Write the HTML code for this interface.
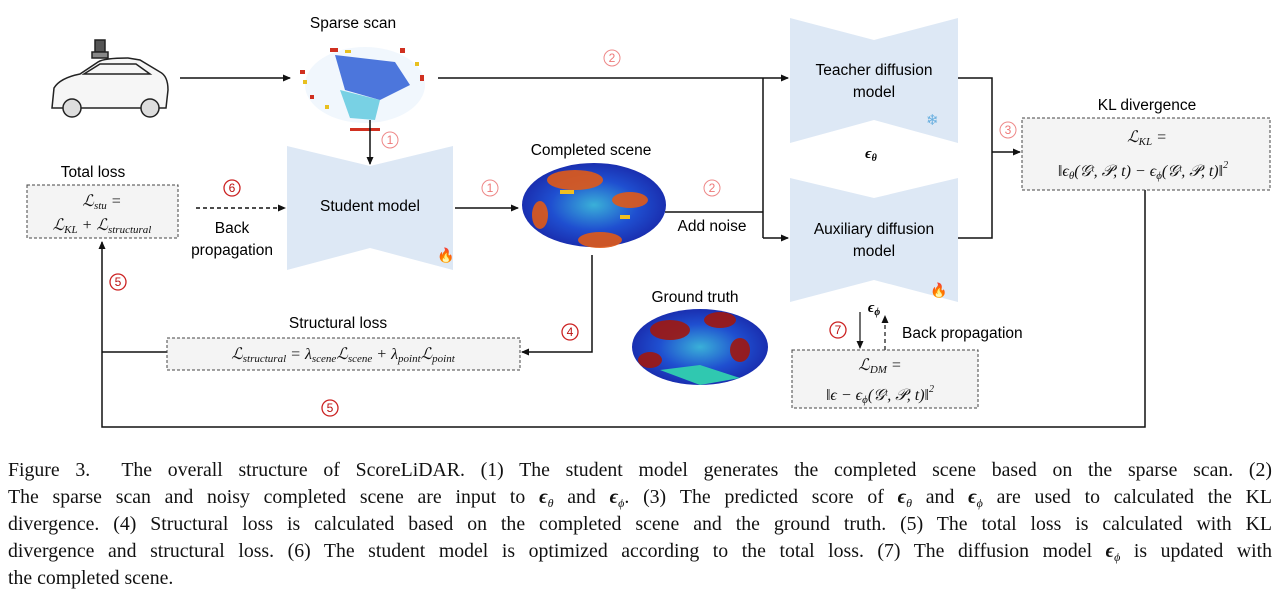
<!DOCTYPE html>
<html><head><meta charset="utf-8"><style>
body{margin:0;width:1280px;height:587px;background:#fff;overflow:hidden;position:relative}
svg{position:absolute;left:0;top:0}
.cap{position:absolute;left:8px;width:1264px;font-family:"Liberation Serif",serif;font-size:19.8px;color:#111;line-height:27px}
.cap div{height:27px;text-align:justify;text-align-last:justify;white-space:nowrap}
.cap div.l{text-align-last:left}
.cap s{text-decoration:none;font-size:12px;position:relative;top:4px;line-height:0;font-style:italic}
</style></head><body>
<svg width="1280" height="440" viewBox="0 0 1280 440" font-family="Liberation Sans, sans-serif" font-size="15.5">
<defs>
<marker id="a" markerWidth="8" markerHeight="8" refX="7" refY="4" orient="auto" markerUnits="userSpaceOnUse"><path d="M0,0.5 L8,4 L0,7.5z" fill="#111"/></marker>
<radialGradient id="pc" cx="50%" cy="50%" r="50%"><stop offset="0" stop-color="#3ab0d8"/><stop offset=".6" stop-color="#1f4fd0"/><stop offset="1" stop-color="#1a2fb0"/></radialGradient>
</defs>
<g fill="none" stroke="#222" stroke-width="1.5">
<path d="M52,108 L54,88 Q60,78 80,74 L98,62 Q104,58 128,58 L140,60 L160,72 Q168,76 168,90 L166,108 Z" fill="#f6f6f6"/>
<path d="M84,74 L100,64 L136,64 L150,74 Z"/>
<circle cx="72" cy="108" r="9" fill="#ddd"/><circle cx="150" cy="108" r="9" fill="#ddd"/>
<rect x="95" y="40" width="10" height="12" fill="#555"/><rect x="92" y="52" width="16" height="6" fill="#888"/>
</g>
<g>
<ellipse cx="365" cy="85" rx="60" ry="38" fill="#e8f2fb" opacity=".6"/>
<path d="M335,55 L395,62 L410,85 L380,100 L345,90 Z" fill="#2f5fd6" opacity=".85"/>
<path d="M340,90 L380,100 L375,120 L350,118 Z" fill="#45c0d8" opacity=".7"/>
<g fill="#d03020"><rect x="300" y="70" width="5" height="4"/><rect x="330" y="48" width="8" height="4"/><rect x="400" y="48" width="5" height="5"/><rect x="350" y="128" width="30" height="3"/><rect x="420" y="75" width="4" height="6"/><rect x="310" y="95" width="4" height="4"/></g>
<g fill="#e8c020"><rect x="303" y="80" width="4" height="4"/><rect x="345" y="50" width="6" height="3"/><rect x="415" y="62" width="4" height="4"/><rect x="325" y="105" width="4" height="4"/></g>
</g>
<text x="353" y="28" text-anchor="middle">Sparse scan</text>
<polygon points="287,146 370,166 453,146 453,270 370,248 287,270" fill="#dde8f5"/>
<text x="370" y="211" text-anchor="middle">Student model</text>
<text x="437" y="260" font-size="14">🔥</text>
<polygon points="790,18 874,40 958,18 958,143 874,120 790,143" fill="#dde8f5"/>
<text x="874" y="75" text-anchor="middle">Teacher diffusion</text>
<text x="874" y="97" text-anchor="middle">model</text>
<text x="926" y="125" font-size="15" fill="#6ab0e0">❄</text>
<text x="871" y="158" text-anchor="middle" font-family="Liberation Serif,serif" font-style="italic" font-weight="bold" font-size="15">ϵ<tspan font-size="10" dy="3">θ</tspan></text>
<polygon points="790,178 874,198 958,178 958,302 874,280 790,302" fill="#dde8f5"/>
<text x="874" y="234" text-anchor="middle">Auxiliary diffusion</text>
<text x="874" y="256" text-anchor="middle">model</text>
<text x="930" y="295" font-size="14">🔥</text>
<text x="874" y="312" text-anchor="middle" font-family="Liberation Serif,serif" font-style="italic" font-weight="bold" font-size="15">ϵ<tspan font-size="10" dy="3">ϕ</tspan></text>
<ellipse cx="594" cy="205" rx="72" ry="42" fill="url(#pc)"/>
<g fill="#e05a18" opacity=".9"><ellipse cx="575" cy="180" rx="28" ry="10"/><ellipse cx="630" cy="200" rx="18" ry="8"/><ellipse cx="600" cy="240" rx="22" ry="8"/><ellipse cx="540" cy="215" rx="8" ry="14"/></g>
<g fill="#f0c020"><rect x="560" y="190" width="14" height="4"/><rect x="620" y="215" width="10" height="4"/></g>
<text x="591" y="155" text-anchor="middle">Completed scene</text>
<ellipse cx="700" cy="347" rx="68" ry="38" fill="url(#pc)"/>
<g fill="#a01810" opacity=".9"><ellipse cx="670" cy="330" rx="20" ry="10"/><ellipse cx="720" cy="320" rx="16" ry="8"/><ellipse cx="650" cy="360" rx="12" ry="8"/><ellipse cx="740" cy="350" rx="10" ry="12"/></g>
<path d="M660,370 L700,365 L740,378 L700,385 Z" fill="#30c8b0"/>
<text x="695" y="302" text-anchor="middle">Ground truth</text>
<g stroke="#111" stroke-width="1.5" fill="none">
<line x1="180" y1="78" x2="290" y2="78" marker-end="url(#a)"/>
<line x1="438" y1="78" x2="788" y2="78" marker-end="url(#a)"/>
<line x1="370" y1="120" x2="370" y2="164" marker-end="url(#a)"/>
<line x1="196" y1="208" x2="285" y2="208" stroke-dasharray="4,3" marker-end="url(#a)"/>
<line x1="455" y1="208" x2="518" y2="208" marker-end="url(#a)"/>
<polyline points="665,212 763,212"/>
<line x1="763" y1="78" x2="763" y2="238"/>
<line x1="763" y1="238" x2="788" y2="238" marker-end="url(#a)"/>
<polyline points="958,78 992,78 992,238 958,238"/>
<line x1="992" y1="152" x2="1020" y2="152" marker-end="url(#a)"/>
<polyline points="1145,190 1145,427 102,427 102,242" marker-end="url(#a)"/>
<polyline points="592,255 592,352 522,352" marker-end="url(#a)"/>
<line x1="167" y1="352" x2="102" y2="352"/>
<line x1="860" y1="312" x2="860" y2="348" stroke-width="1.2" marker-end="url(#a)"/>
<line x1="885" y1="350" x2="885" y2="316" stroke-width="1.2" stroke-dasharray="4,3" marker-end="url(#a)"/>
</g>
<g fill="#f4f4f4" stroke="#444" stroke-width="1" stroke-dasharray="3,2">
<rect x="27" y="185" width="151" height="53"/>
<rect x="1022" y="118" width="248" height="72"/>
<rect x="167" y="338" width="353" height="32"/>
<rect x="792" y="350" width="186" height="58"/>
</g>
<g font-family="Liberation Serif,serif" font-style="italic" font-size="16" text-anchor="middle" fill="#111">
<text x="102" y="206">ℒ<tspan font-size="11" dy="3">stu</tspan><tspan dy="-3"> =</tspan></text>
<text x="102" y="230">ℒ<tspan font-size="11" dy="3">KL</tspan><tspan dy="-3"> + ℒ</tspan><tspan font-size="11" dy="3">structural</tspan></text>
<text x="1147" y="142">ℒ<tspan font-size="11" dy="3">KL</tspan><tspan dy="-3"> =</tspan></text>
<text x="1143" y="176">‖ϵ<tspan font-size="11" dy="3">θ</tspan><tspan dy="-3">(𝒢ᵗ, 𝒫, t) − ϵ</tspan><tspan font-size="11" dy="3">ϕ</tspan><tspan dy="-3">(𝒢ᵗ, 𝒫, t)‖</tspan><tspan font-size="10" dy="-8">2</tspan></text>
<text x="343" y="359">ℒ<tspan font-size="11" dy="3">structural</tspan><tspan dy="-3"> = λ</tspan><tspan font-size="11" dy="3">scene</tspan><tspan dy="-3">ℒ</tspan><tspan font-size="11" dy="3">scene</tspan><tspan dy="-3"> + λ</tspan><tspan font-size="11" dy="3">point</tspan><tspan dy="-3">ℒ</tspan><tspan font-size="11" dy="3">point</tspan></text>
<text x="880" y="370">ℒ<tspan font-size="11" dy="3">DM</tspan><tspan dy="-3"> =</tspan></text>
<text x="880" y="400">‖ϵ − ϵ<tspan font-size="11" dy="3">ϕ</tspan><tspan dy="-3">(𝒢ᵗ, 𝒫, t)‖</tspan><tspan font-size="10" dy="-8">2</tspan></text>
</g>
<text x="93" y="177" text-anchor="middle">Total loss</text>
<text x="1147" y="110" text-anchor="middle">KL divergence</text>
<text x="338" y="328" text-anchor="middle">Structural loss</text>
<text x="232" y="233" text-anchor="middle">Back</text>
<text x="232" y="255" text-anchor="middle">propagation</text>
<text x="712" y="231" text-anchor="middle">Add noise</text>
<text x="902" y="338">Back  propagation</text>
<g font-size="12" text-anchor="middle">
<g stroke="#e88" fill="none"><circle cx="612" cy="58" r="8"/><circle cx="390" cy="140" r="8"/><circle cx="490" cy="188" r="8"/><circle cx="712" cy="188" r="8"/><circle cx="1008" cy="130" r="8"/></g>
<g fill="#e77"><text x="612" y="62">2</text><text x="390" y="144">1</text><text x="490" y="192">1</text><text x="712" y="192">2</text><text x="1008" y="134">3</text></g>
<g stroke="#c22" fill="none" stroke-width="1.3"><circle cx="232" cy="188" r="8"/><circle cx="118" cy="282" r="8"/><circle cx="570" cy="332" r="8"/><circle cx="330" cy="408" r="8"/><circle cx="838" cy="330" r="8"/></g>
<g fill="#b11"><text x="232" y="192">6</text><text x="118" y="286">5</text><text x="570" y="336">4</text><text x="330" y="412">5</text><text x="838" y="334">7</text></g>
</g>
</svg>
<div class="cap" style="top:457px">
<div>Figure 3.&nbsp; The overall structure of ScoreLiDAR. (1) The student model generates the completed scene based on the sparse scan. (2)</div>
<div>The sparse scan and noisy completed scene are input to <b><i>ϵ</i></b><s>θ</s> and <b><i>ϵ</i></b><s>ϕ</s>. (3) The predicted score of <b><i>ϵ</i></b><s>θ</s> and <b><i>ϵ</i></b><s>ϕ</s> are used to calculated the KL</div>
<div>divergence. (4) Structural loss is calculated based on the completed scene and the ground truth. (5) The total loss is calculated with KL</div>
<div>divergence and structural loss. (6) The student model is optimized according to the total loss. (7) The diffusion model <b><i>ϵ</i></b><s>ϕ</s> is updated with</div>
<div class="l">the completed scene.</div>
</div>
</body></html>
